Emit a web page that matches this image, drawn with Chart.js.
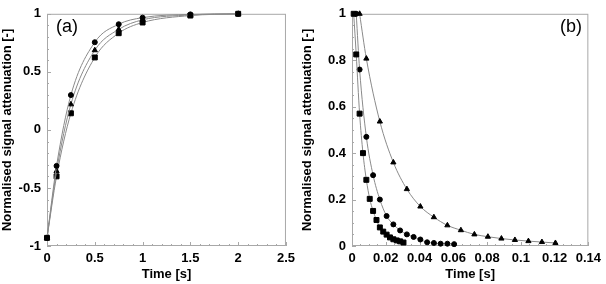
<!DOCTYPE html>
<html lang="en">
<head>
<meta charset="UTF-8">
<title>Normalised signal attenuation</title>
<script src="https://cdn.jsdelivr.net/npm/chart.js"></script>
<style>
  body { margin: 0; background: #fff; font-family: "Liberation Sans", Arial, sans-serif; }
  .wrap { position: relative; width: 606px; height: 284px; }
  #chartA { position: absolute; left: 0; top: 0; }
  #chartB { position: absolute; left: 300px; top: 0; }
  .tag { position: absolute; font-size: 18px; color: #000; }
</style>
</head>
<body>
<div class="wrap">
  <canvas id="chartA" width="300" height="284"></canvas>
  <canvas id="chartB" width="306" height="284"></canvas>
  <div class="tag" style="left:56px; top:16px;">(a)</div>
  <div class="tag" style="left:560px; top:16px;">(b)</div>
</div>
<script>
// panel (a)
const timeA = [0, 0.1, 0.25, 0.5, 0.75, 1, 1.5, 2];
const circleA = [-0.93, -0.31, 0.30, 0.755, 0.91, 0.967, 0.995, 1.0];
const triangleA = [-0.93, -0.355, 0.22, 0.686, 0.866, 0.948, 0.99, 1.0];
const squareA = [-0.93, -0.40, 0.143, 0.624, 0.833, 0.925, 0.985, 1.0];

// panel (b)
const timeSquareB = [0.001, 0.0025, 0.0045, 0.0065, 0.0085, 0.0105, 0.0125, 0.0145, 0.0165, 0.0185, 0.0205, 0.0225, 0.0245, 0.0265, 0.0285, 0.0305];
const squareB = [1.0, 0.825, 0.57, 0.40, 0.285, 0.203, 0.151, 0.112, 0.08, 0.062, 0.049, 0.037, 0.029, 0.024, 0.02, 0.015];
const timeCircleB = [0.0025, 0.0045, 0.0085, 0.0125, 0.0165, 0.0205, 0.0245, 0.0285, 0.0325, 0.0365, 0.0405, 0.0445, 0.0485, 0.0525, 0.0565, 0.0605];
const circleB = [1.0, 0.76, 0.47, 0.305, 0.20, 0.129, 0.093, 0.067, 0.05, 0.039, 0.028, 0.016, 0.013, 0.01, 0.01, 0.008];
const timeTriangleB = [0.0045, 0.0085, 0.0165, 0.0245, 0.0325, 0.0405, 0.0485, 0.0565, 0.0645, 0.0725, 0.0805, 0.0885, 0.0965, 0.1045, 0.1125, 0.1205];
const triangleB = [1.0, 0.807, 0.536, 0.36, 0.245, 0.17, 0.124, 0.089, 0.068, 0.05, 0.04, 0.032, 0.026, 0.021, 0.017, 0.013];

const axisGrey = '#a8a8a8';
const lineGrey = '#8a8a8a';
const boldFont = { family: '"Liberation Sans", Arial, sans-serif', size: 13, weight: 'bold' };

// box around the plot + inward tick marks
const frameTicks = {
  id: 'frameTicks',
  beforeDatasetsDraw(chart, args, opts) {
    const { ctx, chartArea: a, scales: { x, y } } = chart;
    ctx.save();
    ctx.strokeStyle = axisGrey;
    ctx.lineWidth = 1;
    ctx.strokeRect(a.left + 0.5, a.top + 0.5, a.right - a.left - 1, a.bottom - a.top - 1);
    ctx.beginPath();
    const isMajor = (v, step) => Math.abs(v / step - Math.round(v / step)) < 1e-6;
    for (let i = 0; ; i++) {
      const v = x.min + i * opts.xMinor;
      if (v > x.max + 1e-9) break;
      const px = Math.round(x.getPixelForValue(v)) + 0.5;
      const len = isMajor(v, opts.xMajor) ? 4 : 2;
      ctx.moveTo(px, a.bottom);
      ctx.lineTo(px, a.bottom - len);
    }
    for (let i = 0; ; i++) {
      const v = y.min + i * opts.yMinor;
      if (v > y.max + 1e-9) break;
      const py = Math.round(y.getPixelForValue(v)) + 0.5;
      const len = isMajor(v - y.min, opts.yMajor) ? 4 : 2;
      ctx.moveTo(a.left, py);
      ctx.lineTo(a.left + len, py);
    }
    ctx.stroke();
    ctx.restore();
  }
};

function series(xs, ys, style, radius) {
  return {
    data: xs.map((t, i) => ({ x: t, y: ys[i] })),
    pointStyle: style,
    pointRadius: radius,
    pointBorderWidth: 1,
    pointBackgroundColor: '#000',
    pointBorderColor: '#000',
    borderColor: lineGrey,
    borderWidth: 1,
    cubicInterpolationMode: 'monotone',
    clip: false
  };
}

function makeChart(id, sets, xr, yr, yWidth, pad, ticks) {
  return new Chart(document.getElementById(id), {
    type: 'line',
    data: { datasets: sets },
    plugins: [frameTicks],
    options: {
      responsive: false,
      animation: false,
      layout: { padding: pad },
      plugins: {
        legend: { display: false },
        tooltip: { enabled: false },
        frameTicks: ticks
      },
      scales: {
        x: {
          type: 'linear', min: xr[0], max: xr[1],
          ticks: { stepSize: xr[2], font: boldFont, color: '#000', padding: 5, maxRotation: 0,
                   callback: v => String(+v.toFixed(3)) },
          grid: { display: false, drawTicks: false },
          border: { display: false },
          title: { display: true, text: 'Time [s]', font: boldFont, color: '#000', padding: { top: 0, bottom: 2 } },
          afterFit(s) { s.height = 38; }
        },
        y: {
          type: 'linear', min: yr[0], max: yr[1],
          ticks: { stepSize: yr[2], font: boldFont, color: '#000', padding: 6,
                   callback: v => String(+v.toFixed(3)) },
          grid: { display: false, drawTicks: false },
          border: { display: false },
          title: { display: true, text: 'Normalised signal attenuation [-]', font: boldFont, color: '#000', padding: { top: 0, bottom: 0 } },
          afterFit(s) { s.width = yWidth; }
        }
      }
    }
  });
}

makeChart('chartA', [
  series(timeA, circleA, 'circle', 2.5),
  series(timeA, triangleA, 'triangle', 3),
  series(timeA, squareA, 'rect', 3.5)
], [0, 2.5, 0.5], [-1, 1, 0.5], 47, { top: 7, right: 14, left: 0, bottom: 0 },
   { xMinor: 0.1, xMajor: 0.5, yMinor: 0.1, yMajor: 0.5 });

makeChart('chartB', [
  series(timeSquareB, squareB, 'rect', 3.5),
  series(timeCircleB, circleB, 'circle', 2.5),
  series(timeTriangleB, triangleB, 'triangle', 3)
], [0, 0.14, 0.02], [0, 1, 0.2], 52, { top: 7, right: 13, left: 0, bottom: 0 },
   { xMinor: 0.005, xMajor: 0.02, yMinor: 0.05, yMajor: 0.2 });
</script>
</body>
</html>
